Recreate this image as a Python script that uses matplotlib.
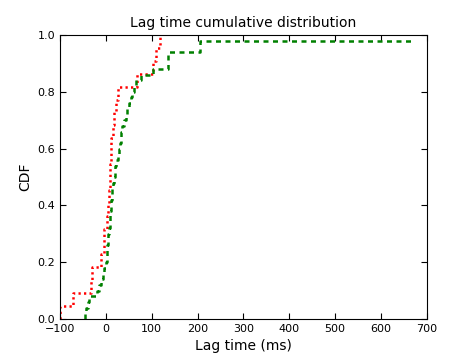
import numpy as np
import matplotlib
matplotlib.use("Agg")
import matplotlib.pyplot as plt

# sorted lag times (ms)
red_lags = [-100, -72, -32, -30, -11, -5, -3, 2, 5, 7, 8, 10, 11, 12,
            15, 17, 22, 26, 68, 103, 110, 118, 120]
green_lags = [-45, -44, -40, -36, -20, -15, -10, -7, -4, 0,
              2, 3, 3.5, 4, 5, 6, 8, 9, 10, 11,
              12, 13, 14, 16, 17, 19, 21, 23, 26, 28,
              30, 32, 34, 36, 40, 43, 46, 50, 54, 58,
              62, 65, 76, 103, 135, 135, 135, 205, 205, 673]

red_cdf = np.arange(len(red_lags)) / (len(red_lags) - 1)
green_cdf = np.arange(len(green_lags)) / len(green_lags)

fig = plt.figure(figsize=(4.74, 3.55), dpi=100)
ax = fig.add_axes([0.1266, 0.1014, 0.774, 0.80])

ax.step(red_lags, red_cdf, 'r:', linewidth=1.8, dashes=(0.9, 1.3))
ax.step(green_lags, green_cdf, 'g--', linewidth=1.8, dashes=(2.0, 1.8))

ax.set_xlim(-100, 700)
ax.set_ylim(0, 1)
ax.set_xticks(np.arange(-100, 701, 100))
ax.set_yticks(np.arange(0, 1.01, 0.2))
ax.tick_params(direction='in', top=True, right=True, labelsize=8, length=4)
for s in ax.spines.values():
    s.set_linewidth(0.8)

ax.set_title("Lag time cumulative distribution", fontsize=10)
ax.set_xlabel("Lag time (ms)", fontsize=10)
ax.set_ylabel("CDF", fontsize=10)

fig.savefig("out.png", dpi=100)
